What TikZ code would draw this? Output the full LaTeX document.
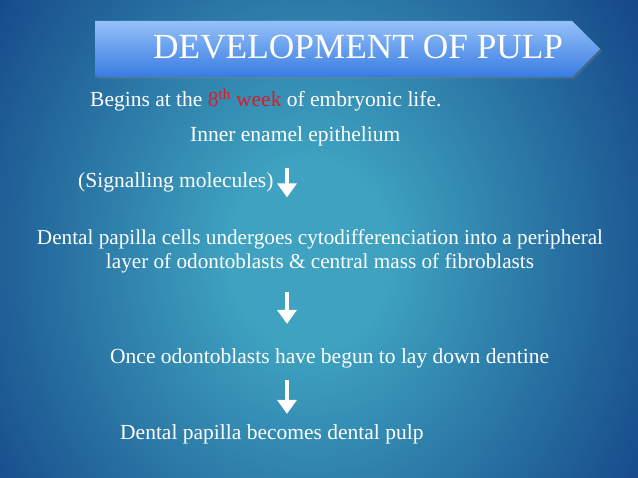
\documentclass[tikz,border=0pt]{standalone}
\usepackage{fontspec}
\setmainfont{Liberation Serif}
\newfontfamily\slidefont{Liberation Serif}
\usetikzlibrary{arrows.meta,shadows}

\definecolor{bgcentre}{RGB}{62,162,192}
\definecolor{bgmid}{RGB}{22,74,138}
\definecolor{bgedge}{RGB}{8,30,96}
\definecolor{bannerlight}{RGB}{148,192,248}
\definecolor{bannerdark}{RGB}{56,124,226}
\definecolor{weekred}{RGB}{214,30,40}

\pgfdeclareradialshading{slidebg}{\pgfpoint{0bp}{0bp}}{color(0bp)=(bgcentre); color(5bp)=(bgcentre); color(24bp)=(bgmid); color(50bp)=(bgedge)}

\tikzset{
  txt/.style={text=white, inner sep=0pt, anchor=base west, font=\slidefont\fontsize{21.5}{24.5}\selectfont},
  downarrow/.style={draw=white, line width=4pt, -{Triangle[width=19pt,length=14pt]}}
}

\begin{document}
\begin{tikzpicture}[x=1pt,y=-1pt]
\useasboundingbox (0,0) rectangle (638,478);
% Fondo
\fill[bgedge] (0,0) rectangle (638,478);
\begin{scope}
\clip (0,0) rectangle (638,478);
\shade[shading=slidebg] (310,255) ellipse (400 and 470);
\end{scope}
% Titulo
\shade[top color=bannerlight, bottom color=bannerdark, drop shadow={opacity=0.35, shadow xshift=2pt, shadow yshift=-2pt}]
  (95,21) -- (572,21) -- (600,49) -- (572,77) -- (95,77) -- cycle;
\node[txt, font=\slidefont\fontsize{35.3}{40}\selectfont] (title) at (153,59) {DEVELOPMENT OF PULP};
% Textos
\node[txt] (begins) at (90,107) {Begins at the \textcolor{weekred}{8\textsuperscript{th} week} of embryonic life.};
\node[txt] (epith) at (190,142) {Inner enamel epithelium};
\node[txt] (signal) at (78,188) {(Signalling molecules)};
\node[txt, anchor=base, align=center, font=\slidefont\fontsize{21.2}{24.5}\selectfont] (papilla) at (320,269) {Dental papilla cells undergoes cytodifferenciation into a peripheral\\layer of odontoblasts \& central mass of fibroblasts};
\node[txt] (once) at (110,364) {Once odontoblasts have begun to lay down dentine};
\node[txt] (pulp) at (120,440) {Dental papilla becomes dental pulp};
% Flechas
\coordinate (spine) at (287,0);
\draw[downarrow, shorten <=21pt, shorten >=32pt] (epith.south -| spine) -- (papilla.north -| spine);
\draw[downarrow, shorten <=18pt, shorten >=25pt] (papilla.south -| spine) -- (once.north -| spine);
\draw[downarrow, shorten <=11pt, shorten >=11pt] (once.south -| spine) -- (pulp.north -| spine);
\end{tikzpicture}
\end{document}
